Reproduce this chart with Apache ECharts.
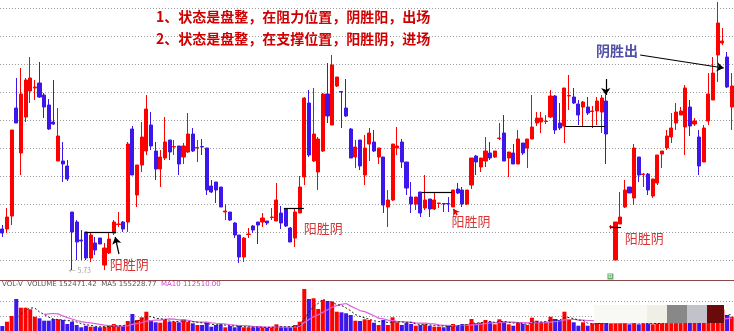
<!DOCTYPE html>
<html><head><meta charset="utf-8">
<script src="https://cdn.jsdelivr.net/npm/echarts@6/dist/echarts.min.js"></script>
<style>html,body{margin:0;padding:0;background:#fff}#c{width:734px;height:331px}</style>
</head><body><div id="c"></div>
<script>
// [open, close, low, high]
const candles = [
[5.91,5.87,5.83,5.95],[5.91,6.03,5.87,6.12],[6.04,6.90,5.95,6.90],[7.12,6.97,6.97,7.42],[6.67,7.26,6.45,7.52],
[7.03,7.40,6.98,7.42],[7.29,7.42,7.17,7.63],[7.32,7.33,7.20,7.40],[7.37,7.23,7.22,7.58],[7.25,7.13,7.02,7.27],
[7.15,6.91,6.90,7.21],[6.98,6.96,6.95,7.40],[6.59,6.84,6.59,7.12],[6.59,6.56,6.38,6.78],[6.54,6.41,6.39,6.60],
[6.08,5.88,5.50,6.08],[5.98,5.78,5.60,6.00],[5.80,5.79,5.60,5.90],[5.88,5.62,5.60,5.88],[5.62,5.85,5.58,5.87],
[5.77,5.70,5.65,5.83],[5.82,5.76,5.76,5.82],[5.55,5.72,5.50,5.77],[5.67,5.81,5.66,5.87],[5.87,5.98,5.85,6.00],
[5.955,5.96,5.93,6.08],[5.98,5.91,5.88,5.99],[5.98,6.76,5.88,6.78],[6.91,6.45,6.45,6.94],[6.25,6.55,6.13,6.55],
[6.55,6.83,6.48,6.98],[6.69,7.11,6.65,7.25],[6.95,6.74,6.70,7.08],[6.69,6.51,6.40,6.78],[6.51,6.63,6.33,6.70],
[6.62,6.78,6.60,7.03],[6.80,6.68,6.60,6.80],[6.73,6.735,6.65,6.80],[6.74,6.56,6.45,6.74],[6.63,6.74,6.56,6.77],
[6.68,6.86,6.67,7.07],[6.86,6.69,6.68,6.92],[6.72,6.725,6.58,6.80],[6.735,6.73,6.65,6.81],[6.72,6.30,6.25,6.72],
[6.34,6.28,6.27,6.40],[6.38,6.30,6.17,6.38],[6.33,6.13,6.13,6.33],[6.08,6.09,6.00,6.16],[6.08,6.00,5.99,6.08],
[5.97,5.85,5.82,5.98],[5.85,5.63,5.57,5.85],[5.63,5.82,5.58,5.83],[5.855,5.86,5.82,5.92],[5.94,5.90,5.87,5.95],
[5.98,5.95,5.76,5.98],[5.98,6.02,5.93,6.07],[5.99,5.97,5.95,5.99],[6.025,6.03,6.00,6.12],[5.99,6.20,5.99,6.37],
[6.07,5.97,5.91,6.14],[6.11,5.94,5.93,6.12],[5.92,5.78,5.78,5.93],[5.82,6.08,5.73,6.12],[6.07,6.33,6.07,6.44],
[6.43,7.22,6.35,7.23],[7.17,6.65,6.63,7.30],[6.59,6.86,6.58,7.32],[6.48,6.81,6.30,6.83],[6.69,7.26,6.68,7.27],
[7.26,7.04,6.97,7.57],[6.95,7.55,6.95,7.65],[7.34,7.43,7.33,7.43],[7.285,7.28,6.92,7.29],[7.12,7.04,7.03,7.41],
[6.91,6.62,6.62,6.92],[6.63,6.73,6.52,6.80],[6.80,6.54,6.50,6.80],[6.45,6.72,6.35,6.85],[6.76,6.87,6.59,6.92],
[6.78,6.69,6.68,6.90],[6.63,6.72,6.56,6.72],[6.63,6.15,6.07,6.63],[6.13,6.20,5.93,6.30],[6.20,6.76,6.19,6.76],
[6.72,6.74,6.65,6.93],[6.78,6.58,6.52,6.81],[6.58,6.32,6.25,6.58],[6.23,6.16,6.07,6.38],[6.16,6.23,6.10,6.23],
[6.28,6.07,6.03,6.28],[6.12,6.20,6.10,6.45],[6.21,6.11,6.03,6.21],[6.11,6.20,6.10,6.27],[6.165,6.17,6.12,6.17],
[6.165,6.16,6.08,6.17],[6.165,6.16,6.08,6.23],[6.13,6.30,6.13,6.30],[6.31,6.27,6.26,6.37],[6.30,6.16,6.13,6.33],
[6.16,6.30,6.15,6.30],[6.35,6.62,6.31,6.62],[6.64,6.58,6.45,6.65],[6.53,6.62,6.48,6.62],[6.59,6.69,6.53,6.83],
[6.67,6.62,6.60,6.78],[6.63,6.69,6.62,6.69],[6.815,6.82,6.80,6.97],[6.87,6.59,6.59,7.05],[6.62,6.68,6.43,6.68],
[6.67,6.56,6.56,6.76],[6.56,6.81,6.56,6.90],[6.77,6.67,6.65,6.77],[6.72,6.81,6.52,6.81],[6.81,6.93,6.81,7.25],
[6.97,7.02,6.94,7.08],[6.98,7.02,6.87,7.08],[6.985,6.99,6.96,7.05],[7.03,7.24,7.02,7.30],[7.24,6.90,6.86,7.25],
[6.97,6.92,6.90,7.17],[6.94,7.32,6.77,7.32],[7.24,7.245,7.10,7.45],[7.23,7.17,7.16,7.32],[7.16,7.05,6.95,7.20],
[7.13,7.18,6.93,7.19],[7.13,7.07,7.05,7.23],[7.085,7.09,6.92,7.14],[7.09,7.19,6.95,7.23],[7.08,7.22,6.87,7.25],
[7.19,6.86,6.56,7.25],[5.93,5.935,5.91,5.95],[5.60,5.98,5.60,5.98],[5.96,6.03,5.96,6.28],[6.13,6.30,6.12,6.40],
[6.33,6.27,6.27,6.33],[6.22,6.72,6.15,6.76],[6.63,6.45,6.38,6.63],[6.455,6.46,6.33,6.47],[6.46,6.30,6.25,6.47],
[6.24,6.41,6.22,6.41],[6.37,6.65,6.35,6.65],[6.66,6.69,6.52,6.69],[6.72,6.84,6.70,6.90],[6.83,6.92,6.77,7.07],
[6.97,7.08,6.90,7.17],[7.05,7.09,7.05,7.13],[6.93,7.32,6.65,7.35],[7.13,6.94,6.84,7.20],[6.96,6.99,6.94,7.02],
[6.83,6.54,6.45,6.90],[6.58,6.92,6.58,6.95],[6.99,7.26,6.95,7.47],[7.20,7.47,7.20,7.63],[7.65,7.97,7.38,8.18],
[7.77,7.79,7.75,7.92],[7.63,7.33,7.32,7.68],[7.13,7.34,6.90,7.47]
];
const volumes = [
50000,93000,150000,320000,233000,233000,217000,143000,127000,103000,
103000,120000,117000,110000,70000,93000,60000,37000,53000,43000,
43000,37000,43000,53000,70000,53000,50000,100000,170000,110000,
137000,193000,110000,87000,83000,120000,93000,93000,87000,117000,
93000,77000,60000,60000,87000,43000,60000,67000,37000,50000,
37000,50000,37000,37000,37000,37000,37000,33000,37000,67000,
37000,37000,37000,60000,93000,420000,320000,327000,220000,310000,
300000,293000,193000,187000,177000,160000,103000,100000,117000,110000,
83000,60000,110000,60000,137000,87000,60000,83000,70000,53000,
60000,67000,53000,43000,43000,37000,50000,70000,60000,70000,
67000,120000,77000,83000,110000,93000,67000,117000,93000,67000,
53000,83000,70000,60000,133000,103000,83000,93000,143000,120000,
110000,193000,110000,87000,53000,87000,53000,77000,87000,87000,
100000,77000,87000,83000,87000,67000,100000,67000,77000,77000,
67000,77000,87000,93000,93000,93000,93000,93000,93000,87000,
93000,87000,103000,117000,193000,217000,160000,143000
];
const headerText = ['VOL-V  VOLUME 152471.42  MA5 155228.77', 'MA10 112510.00'];
const titleLines = ['1、状态是盘整，在阻力位置，阴胜阳，出场', '2、状态是盘整，在支撑位置，阳胜阴，进场'];
// annotation labels: [index, price, text]
const redLabels = [[27.3,5.56,'阳胜阴'],[69.1,5.92,'阳胜阴'],[100.9,5.99,'阳胜阴'],[138.2,5.82,'阳胜阴']];
const blueLabels = [[132.3,7.69,'阴胜出']];
const lowLabel = [[16.7,5.50,'← 5.73']];
const bMarker = [[130.9,5.435,'B']];
// annotation segments: [x1, p1, x2, p2, arrow]
const segments = [
 [17.8,5.88,24.5,5.88,0],[25.1,5.66,24.3,5.83,1],
 [60.6,6.12,64.9,6.12,0],
 [90.3,6.28,96.8,6.28,0],
 [121.1,6.94,129.7,6.94,0],[129.9,7.41,129.9,7.25,1],
 [130.8,5.93,133.2,5.93,0],
 [137.3,7.65,155.3,7.52,1]
];
const redArrow = [[97.9,6.05,97.1,6.11]];

const UP = '#ff0000', DOWN = '#3c16ea';
const cats = candles.map((_, i) => i);
function ma(n) {
  return volumes.map((v, i) => {
    if (i < n - 1) return '-';
    let s = 0; for (let k = i - n + 1; k <= i; k++) s += volumes[k];
    return s / n;
  });
}
const isUp = candles.map(c => c[1] >= c[0]);

const mlData = segments.map(s => [
  {coord: [s[0], s[1]], symbol: 'none'},
  {coord: [s[2], s[3]], symbol: s[4] ? 'arrow' : 'none', symbolSize: s[4] ? 7 : 0}
]);
const redMl = redArrow.map(s => [
  {coord: [s[0], s[1]], symbol: 'none'},
  {coord: [s[2], s[3]], symbol: 'arrow', symbolSize: 6}
]);

const font = '"Noto Sans CJK SC", "Noto Sans", sans-serif';
const chart = echarts.init(document.getElementById('c'));
const labelSeries = (data, color, size, weight) => ({
  type: 'scatter', xAxisIndex: 1, yAxisIndex: 0, data, symbolSize: 1, clip: false, silent: true,
  itemStyle: {color: 'transparent'}, z: 10,
  label: {show: true, position: 'inside', formatter: p => p.value[2], color, fontSize: size, fontWeight: weight, fontFamily: font}
});
chart.setOption({
  animation: false,
  backgroundColor: '#ffffff',
  grid: [
    {left: 0, right: 0, top: 0, height: 288},
    {left: 0, right: 0, top: 286, height: 45}
  ],
  xAxis: [
    {type: 'category', data: cats, gridIndex: 0, boundaryGap: true, axisLine: {show: false}, axisTick: {show: false}, axisLabel: {show: false}, splitLine: {show: false}},
    {type: 'value', gridIndex: 0, min: -0.5, max: 157.5, show: false, splitLine: {show: false}},
    {type: 'category', data: cats, gridIndex: 1, boundaryGap: true, axisLine: {show: false}, axisTick: {show: false}, axisLabel: {show: false}, splitLine: {show: false}}
  ],
  yAxis: [
    {type: 'value', gridIndex: 0, min: 5.32, max: 8.20, interval: 0.28, axisLine: {show: false}, axisTick: {show: false}, axisLabel: {show: false},
     splitLine: {show: true, showMinLine: false, showMaxLine: false, lineStyle: {color: '#9a9a9a', type: [1, 2], width: 1}}},
    {type: 'value', gridIndex: 1, min: 0, max: 450000, interval: 150000, axisLine: {show: false}, axisTick: {show: false}, axisLabel: {show: false},
     splitLine: {show: true, showMinLine: false, showMaxLine: false, lineStyle: {color: '#9a9a9a', type: [1, 2], width: 1}}}
  ],
  series: [
    {type: 'candlestick', xAxisIndex: 0, yAxisIndex: 0, data: candles, barWidth: 3.6,
     itemStyle: {color: UP, color0: DOWN, borderColor: UP, borderColor0: DOWN, borderWidth: 1}},
    {type: 'bar', xAxisIndex: 2, yAxisIndex: 1, data: volumes, barWidth: 4,
     itemStyle: {color: p => isUp[p.dataIndex] ? UP : DOWN}},
    {type: 'line', xAxisIndex: 2, yAxisIndex: 1, data: ma(10), symbol: 'none', lineStyle: {color: '#e060e0', width: 1.2}, z: 3},
    {type: 'line', xAxisIndex: 2, yAxisIndex: 1, data: ma(5), symbol: 'none', lineStyle: {color: '#222', width: 1, type: [2, 2]}, z: 4},
    {type: 'line', xAxisIndex: 1, yAxisIndex: 0, data: [], z: 9,
     markLine: {silent: true, symbol: ['none', 'none'], label: {show: false}, lineStyle: {color: '#000', width: 1.2, type: 'solid'}, data: mlData, animation: false}},
    {type: 'line', xAxisIndex: 1, yAxisIndex: 0, data: [], z: 9,
     markLine: {silent: true, symbol: ['none', 'none'], label: {show: false}, lineStyle: {color: '#e00000', width: 1.5, type: 'solid'}, data: redMl, animation: false}},
    labelSeries(redLabels, '#d00000', 13, 'normal'),
    labelSeries(blueLabels, '#26268e', 14, 'bold'),
    labelSeries(lowLabel, '#8a8a8a', 7, 'normal'),
    {type: 'scatter', xAxisIndex: 1, yAxisIndex: 0, data: bMarker, symbol: 'rect', symbolSize: 6, clip: false, silent: true, z: 10,
     itemStyle: {color: '#3a9a4a'}, label: {show: true, position: 'inside', formatter: p => p.value[2], color: '#e8ffe8', fontSize: 6, fontWeight: 'bold'}}
  ],
  graphic: [
    {type: 'line', shape: {x1: 0, y1: 280.5, x2: 734, y2: 280.5}, style: {stroke: '#8b4848', lineWidth: 1.2}, z: 20},
    {type: 'text', x: 156, y: 17, style: {text: titleLines[0], fill: '#d00000', fontSize: 14, fontWeight: 'bold', fontFamily: font, verticalAlign: 'middle'}, z: 20},
    {type: 'text', x: 156, y: 39, style: {text: titleLines[1], fill: '#d00000', fontSize: 14, fontWeight: 'bold', fontFamily: font, verticalAlign: 'middle'}, z: 20},
    {type: 'text', x: 2, y: 284.5, style: {text: '{a|' + headerText[0] + '}  {b|' + headerText[1] + '}', fontSize: 7, fontFamily: 'DejaVu Sans', verticalAlign: 'middle',
      rich: {a: {fill: '#555', fontSize: 7, fontFamily: 'DejaVu Sans'}, b: {fill: '#cc44cc', fontSize: 7, fontFamily: 'DejaVu Sans'}}}, z: 20},
    {type: 'rect', shape: {x: 594, y: 305, width: 53, height: 18}, style: {fill: '#f8f8f5'}, z: 20},
    {type: 'rect', shape: {x: 647, y: 305, width: 20, height: 18}, style: {fill: '#efefe6'}, z: 20},
    {type: 'rect', shape: {x: 667, y: 305, width: 20, height: 18}, style: {fill: '#888888'}, z: 20},
    {type: 'rect', shape: {x: 687, y: 305, width: 20, height: 18}, style: {fill: '#c2c2ca'}, z: 20},
    {type: 'rect', shape: {x: 707, y: 305, width: 17, height: 18}, style: {fill: '#6a0a0a'}, z: 20}
  ]
});
</script></body></html>
